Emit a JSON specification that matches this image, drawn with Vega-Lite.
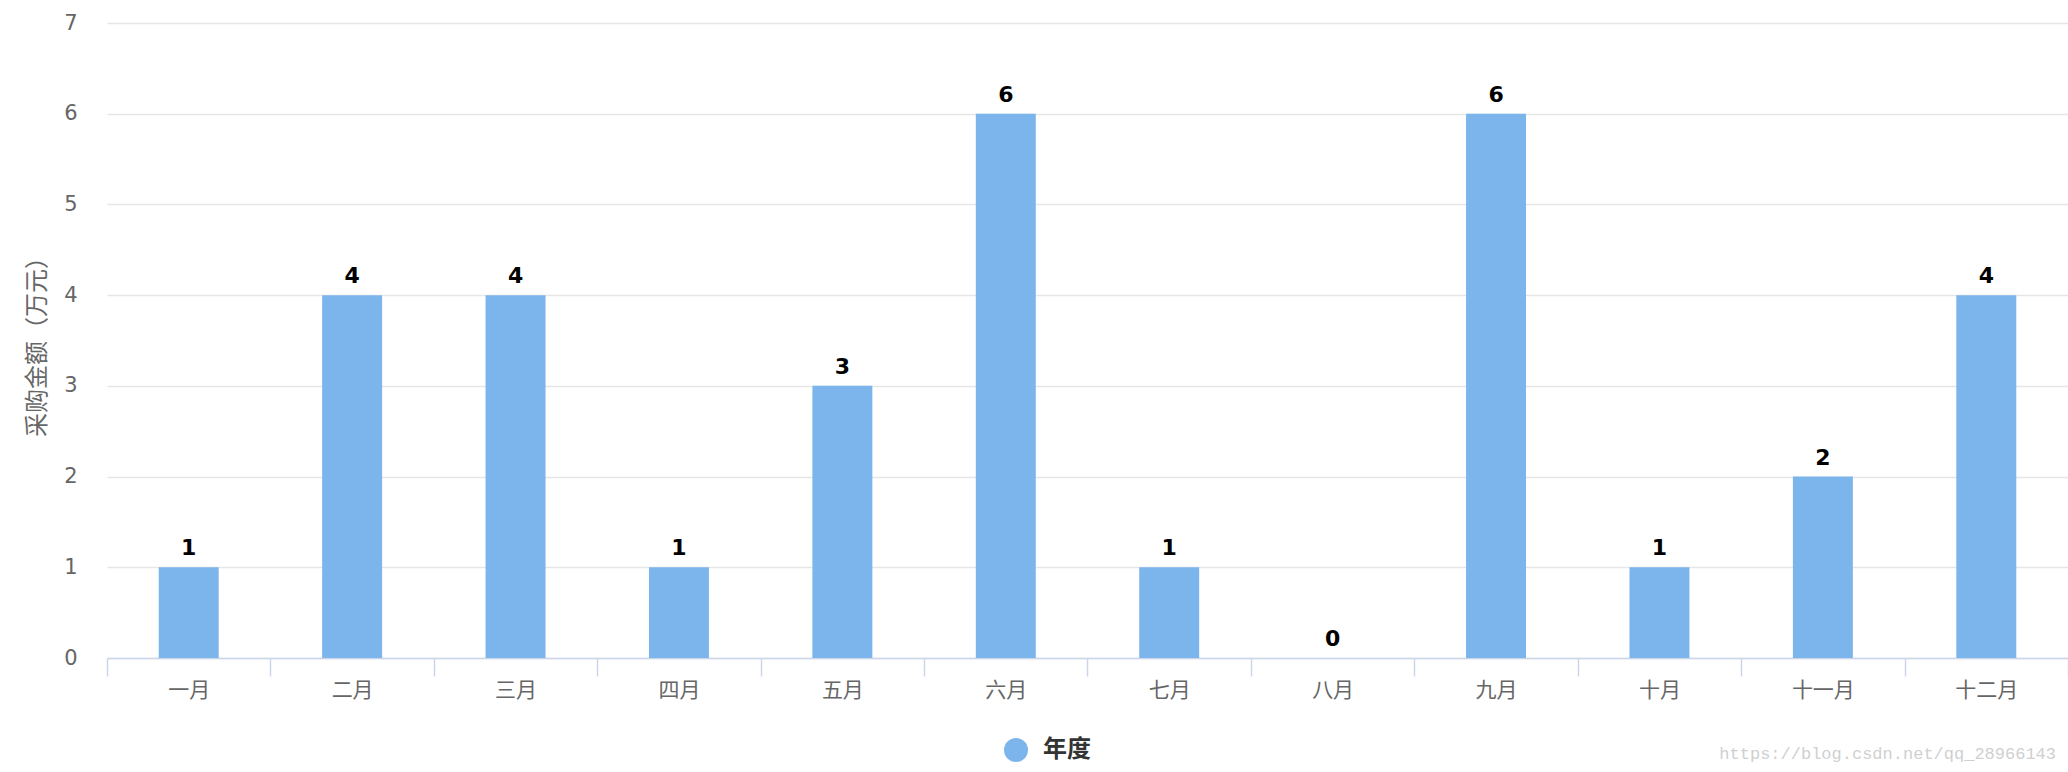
{
  "$schema": "https://vega.github.io/schema/vega-lite/v6.json",
  "width": 1961,
  "height": 635,
  "autosize": {"type": "none"},
  "padding": {"left": 107, "top": 23, "right": 0, "bottom": 114},
  "background": "#ffffff",
  "title": {
    "text": "https://blog.csdn.net/qq_28966143",
    "orient": "bottom",
    "anchor": "end",
    "frame": "group",
    "font": "Liberation Mono",
    "fontSize": 17,
    "fontWeight": "normal",
    "color": "#d0d0d0",
    "offset": 6,
    "dx": -12,
    "dy": -22
  },
  "data": {
    "values": [
      {"month": "一月", "value": 1, "series": "年度"},
      {"month": "二月", "value": 4, "series": "年度"},
      {"month": "三月", "value": 4, "series": "年度"},
      {"month": "四月", "value": 1, "series": "年度"},
      {"month": "五月", "value": 3, "series": "年度"},
      {"month": "六月", "value": 6, "series": "年度"},
      {"month": "七月", "value": 1, "series": "年度"},
      {"month": "八月", "value": 0, "series": "年度"},
      {"month": "九月", "value": 6, "series": "年度"},
      {"month": "十月", "value": 1, "series": "年度"},
      {"month": "十一月", "value": 2, "series": "年度"},
      {"month": "十二月", "value": 4, "series": "年度"}
    ]
  },
  "encoding": {
    "x": {
      "field": "month",
      "type": "nominal",
      "sort": null,
      "scale": {"paddingInner": 0, "paddingOuter": 0},
      "axis": {
        "title": null,
        "labelAngle": 0,
        "labelFont": "Noto Sans CJK SC",
        "labelFontSize": 21,
        "labelColor": "#666666",
        "labelPadding": 3,
        "domainColor": "#ccd6eb",
        "domainWidth": 1.5,
        "tickColor": "#ccd6eb",
        "tickWidth": 1.5,
        "tickSize": 18,
        "tickBand": "extent",
        "grid": false
      }
    },
    "y": {
      "field": "value",
      "type": "quantitative",
      "scale": {"domain": [0, 7], "nice": false},
      "axis": {
        "title": "采购金额（万元）",
        "titleFont": "Noto Sans CJK SC",
        "titleFontSize": 24,
        "titleFontWeight": "normal",
        "titleColor": "#666666",
        "titlePadding": 14,
        "values": [0, 1, 2, 3, 4, 5, 6, 7],
        "labelFont": "DejaVu Sans",
        "labelFontSize": 21,
        "labelColor": "#666666",
        "labelPadding": 30,
        "ticks": false,
        "domain": false,
        "grid": true,
        "gridColor": "#e6e6e6",
        "gridWidth": 1.5
      }
    }
  },
  "layer": [
    {
      "mark": {"type": "bar", "cornerRadius": 0, "width": {"band": 0.367}},
      "encoding": {
        "color": {
          "field": "series",
          "type": "nominal",
          "scale": {"range": ["#7cb5ec"]},
          "legend": {
            "title": null,
            "orient": "none",
            "legendX": 897,
            "legendY": 715,
            "padding": 0,
            "symbolType": "circle",
            "symbolSize": 576,
            "symbolStrokeWidth": 0,
            "symbolOpacity": 1,
            "labelFont": "Noto Sans CJK SC",
            "labelFontSize": 24,
            "labelFontWeight": "bold",
            "labelColor": "#333333",
            "labelOffset": 15
          }
        }
      }
    },
    {
      "mark": {
        "type": "text",
        "font": "DejaVu Sans",
        "fontSize": 22,
        "fontWeight": "bold",
        "color": "#000000",
        "baseline": "alphabetic",
        "dy": -12
      },
      "encoding": {
        "text": {"field": "value", "type": "quantitative"}
      }
    }
  ],
  "config": {
    "view": {"stroke": null}
  }
}
